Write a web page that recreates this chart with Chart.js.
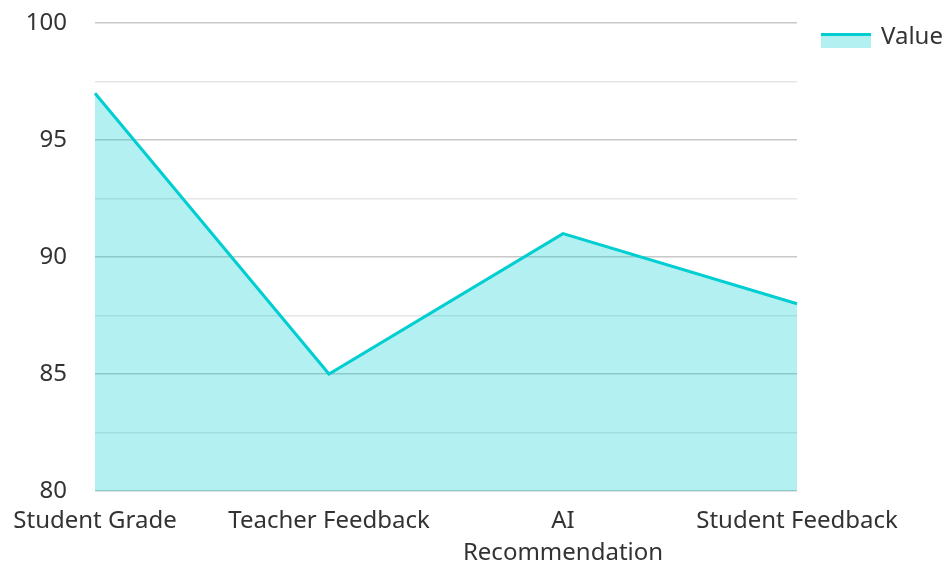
<!DOCTYPE html>
<html>
<head>
<meta charset="utf-8">
<script src="https://cdn.jsdelivr.net/npm/chart.js@4"></script>
<style>
  html, body { margin: 0; padding: 0; background: #fff; }
  #wrap { width: 946px; height: 562px; }
</style>
</head>
<body>
<div id="wrap"><canvas id="chart" width="946" height="562"></canvas></div>
<script>
const categories = ['Student Grade', 'Teacher Feedback', ['AI', 'Recommendation'], 'Student Feedback'];
const values = [97, 85, 91, 88];
const seriesName = 'Value';
const yMin = 80;
const yMax = 100;
const lineColor = '#00CED1';
const fillColor = 'rgba(0, 206, 209, 0.3)';

Chart.defaults.font.family = '"Noto Sans", "Open Sans", sans-serif';
Chart.defaults.font.size = 24;
Chart.defaults.color = '#333';

// legend drawn by hand in the space kept free on the right
const sideLegend = {
    id: 'sideLegend',
    afterDraw(chart) {
        const c = chart.ctx;
        const x = chart.chartArea.right + 24;
        const y = 33;
        c.save();
        c.fillStyle = fillColor;
        c.fillRect(x, y, 50, 15);
        c.fillStyle = lineColor;
        c.fillRect(x, y, 50, 3);
        c.fillStyle = '#333';
        c.font = '24px "Noto Sans", "Open Sans", sans-serif';
        c.textBaseline = 'middle';
        c.fillText(chart.data.datasets[0].label, x + 60, y + 4);
        c.restore();
    }
};

const ctx = document.getElementById('chart').getContext('2d');
new Chart(ctx, {
    type: 'line',
    data: {
        labels: categories,
        datasets: [{
            label: seriesName,
            data: values,
            borderColor: lineColor,
            backgroundColor: fillColor,
            borderWidth: 3,
            fill: 'origin',
            tension: 0,
            pointRadius: 0
        }]
    },
    options: {
        responsive: false,
        animation: false,
        layout: { autoPadding: false, padding: { top: 23, right: 149, left: 0, bottom: 0 } },
        plugins: {
            legend: { display: false },
            tooltip: { enabled: false }
        },
        scales: {
            x: {
                offset: false,
                grid: { display: false },
                border: { display: false },
                afterFit: s => { s.height = 71; },
                ticks: { maxRotation: 0, autoSkip: false, padding: 6, font: { lineHeight: 1.35 } }
            },
            y: {
                min: yMin,
                max: yMax,
                border: { display: false },
                afterFit: s => { s.width = 95; },
                grid: {
                    drawTicks: true,
                    tickLength: 25,
                    tickColor: 'rgba(0,0,0,0)',
                    lineWidth: 1.5,
                    color: c => (c.tick && c.tick.value % 5 === 0) ? '#c8c8c8' : '#e6e6e6'
                },
                ticks: {
                    stepSize: 2.5,
                    padding: 3,
                    callback: v => v % 5 === 0 ? v : ''
                }
            }
        }
    },
    plugins: [sideLegend]
});
</script>
</body>
</html>
